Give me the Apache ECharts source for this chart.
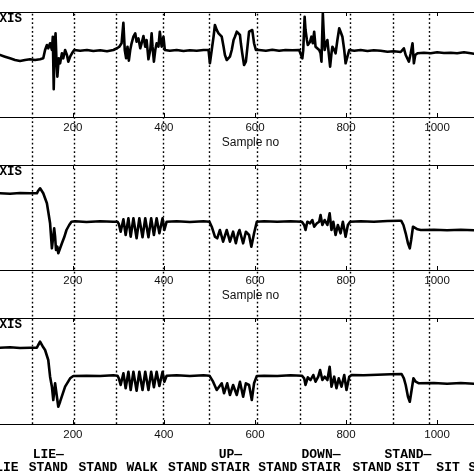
<!DOCTYPE html>
<html lang="en">
<head>
<meta charset="UTF-8">
<title>Accelerometer axes</title>
<style>
    html, body { margin: 0; padding: 0; background: #fff; }
    #main { width: 474px; height: 474px; }
</style>
</head>
<body>
<div id="main"></div>
<script src="https://cdn.jsdelivr.net/npm/echarts@6.0.0/dist/echarts.min.js"></script>
<script>
// visible part of the sample number axis (the figure is cropped on both sides)
const sampleMin = 40, sampleMax = 1081;
const sampleTicks = [200, 400, 600, 800, 1000];
const sampleNameAt = 590;

// activity boundaries (sample no) - the dotted lines
const boundaries = [111, 203, 295, 399, 500, 606, 699, 809, 904, 982];

// activity names under the bottom panel and where they sit (sample no)
const activityNames = ['LIE', 'LIE\u2014\nSTAND', 'STAND', 'WALK', 'STAND', 'UP\u2014\nSTAIR', 'STAND',
    'DOWN\u2014\nSTAIR', 'STAND', 'STAND\u2014\nSIT', 'SIT', 'STAND'];
const activityCenters = [55, 146, 255, 352, 452, 546, 650, 745, 857, 936, 1024, 1112];

const panelTitles = ['X-AXIS', 'Y-AXIS', 'Z-AXIS'];

// [sample no, reading] for each axis
const acc1 = [[30,62.5],[40,62],[51,60.3],[62,58.7],[73,57],[84,56],[95,57],[106,57.7],[117,57],[128,57.7],[135,58.7],
    [139,67],[143,72],[146,68.7],[150,73.7],[154,67],[156,80.3],[158,27.7],[160,70.3],[162,83.7],[164,57],[166,40.3],
    [169,58.7],[172,53.7],[176,63.7],[179,58.7],[183,67],[187,62],[190,55.3],[194,60.3],[198,63.7],[203,67],[216,66.3],
    [231,67],[245,66],[260,66.7],[275,65.7],[289,67],[297,68.7],[302,70.3],[307,73.7],[311,94.3],[314,67],[317,58.7],
    [320,70.3],[323,56.3],[326,67],[329,73.7],[333,80.3],[337,83.7],[340,75.3],[344,78.7],[348,68.7],[351,73.7],[355,81],
    [359,70.3],[362,77],[366,57.7],[370,67],[373,83.7],[375,70.3],[378,55.3],[381,67],[384,73.7],[388,70.3],[391,85.3],
    [395,70.3],[399,80.3],[402,67],[413,66.3],[428,67],[443,66],[457,66.7],[472,66.3],[487,67],[498,67],[501,53.7],
    [505,67],[509,80.3],[512,92],[516,87],[520,83.7],[523,85.3],[527,80.3],[531,70.3],[534,62],[538,57],[542,58.7],
    [545,60.3],[549,67],[553,77],[556,80.3],[560,85.3],[563,83.7],[567,82],[569,73.7],[572,63.7],[576,52],[580,55.3],
    [583,57],[587,85.3],[591,83.7],[594,87],[598,73.7],[602,67],[609,67],[624,66.3],[638,67.3],[653,66.3],[667,67],
    [682,66.7],[697,67],[704,58.7],[706,67],[709,100.3],[711,87],[714,77],[716,72],[719,70.3],[721,75.3],[724,80.3],
    [727,73.7],[730,85.3],[733,70.3],[737,72],[741,67],[744,63.7],[746,55.3],[749,103.7],[751,83.7],[753,67],[756,73.7],
    [759,77],[762,63.7],[765,50.3],[768,63.7],[770,70.3],[774,67],[777,63.7],[781,77],[785,88.7],[788,85.3],[792,80.3],
    [796,67],[799,53.7],[803,60.3],[807,67],[818,66.3],[832,67],[847,66],[861,66.7],[876,66.3],[891,65.3],[905,65.7],
    [920,65],[924,67],[927,68.7],[931,62],[935,63.7],[938,55.3],[942,63.7],[946,73.7],[949,53.7],[952,62],[957,63.7],
    [971,64.3],[986,63.7],[1000,64.7],[1015,64],[1030,64.3],[1044,63.7],[1059,64.7],[1074,63.7],[1081,63.3],[1095,64]];

const acc2 = [[30,76.5],[40,76.7],[62,76.3],[84,77],[106,76.7],[121,76.7],[124,79.3],[128,81.7],[132,80],[135,76.7],
    [139,71.7],[143,66.7],[146,58.3],[150,46.7],[154,21.7],[156,30],[159,41.7],[161,33.3],[163,20],[166,23.3],[168,16.7],
    [172,21.7],[176,26.7],[181,32.7],[186,40],[192,45],[197,48.3],[205,48.7],[230,48],[260,48.7],[289,48.3],[298,48.3],
    [301,46],[305,38.3],[311,50.7],[316,35],[322,51.7],[327,33.3],[333,51.7],[340,31.7],[346,51.7],[353,32.7],[359,51.7],
    [366,32.7],[372,51.7],[378,35],[384,51.7],[390,36.7],[397,51.7],[401,40],[406,48.3],[428,48.7],[457,48],[487,48.7],
    [500,48.3],[505,43.3],[512,33.3],[517,31.7],[523,40],[530,28.3],[538,40],[545,28.3],[552,38.3],[558,26.7],[563,36.7],
    [566,40],[569,38.3],[574,26.7],[580,38.3],[587,35],[592,23.3],[598,36.7],[604,48.3],[620,48.7],[649,48.3],[678,48.7],
    [703,48.3],[708,45],[711,40],[715,48.3],[721,46.7],[726,50],[730,43.3],[736,46.7],[741,48.3],[744,55],[748,45],
    [753,50],[759,45],[764,56.7],[768,40],[772,48.3],[777,35],[782,45],[788,36.7],[793,48.3],[799,33.3],[804,45],
    [809,48.3],[832,48.7],[861,48.3],[891,49],[916,49.3],[921,49.3],[926,45],[931,36.7],[936,26.7],[940,21.7],[943,30],
    [947,43.3],[951,42.7],[957,40.7],[964,40],[993,40.3],[1022,39.7],[1052,40.3],[1081,39.7],[1095,40]];

const acc3 = [[30,76.3],[40,76.3],[62,76.7],[84,76],[106,76.3],[121,76.3],[124,79],[128,82.3],[132,80.7],[135,76.7],
    [139,74],[146,64],[150,47.3],[154,37.3],[157,24],[161,40.7],[165,27.3],[168,17.3],[172,22.3],[176,24],[183,37.3],
    [194,45.7],[201,48],[230,48.3],[260,48],[289,48.7],[298,48.3],[301,45.7],[305,39],[311,50.7],[316,35.7],[322,52.3],
    [327,34],[333,52.3],[340,33.3],[346,52.3],[353,34],[359,52.3],[366,34],[372,52.3],[378,36.7],[384,52.3],[390,38],
    [397,52.3],[401,42.3],[406,48.3],[428,48.7],[457,48],[487,48.7],[500,48.3],[508,42.3],[516,34],[519,32.3],[527,40.7],
    [532,30.7],[539,40.7],[545,29],[552,39],[560,29],[567,42.3],[569,40.7],[574,27.3],[580,40.7],[587,39],[593,24],
    [598,40.7],[604,48],[620,48.3],[649,48],[678,48.7],[703,48.3],[708,45.7],[711,39],[716,46.7],[722,44],[728,49],
    [733,42.3],[739,47.3],[743,54],[748,44],[753,47.3],[759,44],[764,57.3],[768,37.3],[774,47.3],[779,35.7],[784,45.7],
    [790,37.3],[796,49],[801,34],[807,47.3],[812,49],[839,48.7],[869,49.3],[898,49.7],[922,50],[927,45.7],[931,39],
    [936,27.3],[940,22.3],[944,34],[948,45.7],[953,42.3],[960,40.7],[993,41],[1022,40.3],[1052,41],[1081,40.3],[1095,40.5]];

const signals = [acc1, acc2, acc3];

const myChart = echarts.init(document.getElementById('main'));

// panel boxes
const panels = [
    {top: 12, height: 105, yMax: 105},
    {top: 165, height: 105, yMax: 105},
    {top: 318, height: 106, yMax: 106}
];

const grids = [], xAxes = [], yAxes = [], series = [];
panels.forEach(function (p, i) {
    grids.push({left: 0, right: 0, top: p.top, height: p.height, outerBoundsMode: 'none'});
    const base = {
        type: 'value', gridIndex: i, min: sampleMin, max: sampleMax,
        splitLine: {show: false},
        axisLine: {show: true, lineStyle: {color: '#000', width: 1}},
        axisTick: {show: true, inside: true, length: 4, customValues: sampleTicks, lineStyle: {color: '#000'}}
    };
    xAxes.push(Object.assign({}, base, {
        position: 'bottom',
        axisLabel: {
            color: '#111', fontSize: 11.5, margin: 5, fontFamily: 'Liberation Sans, Arial',
            customValues: sampleTicks, formatter: function (v) { return String(v); }
        }
    }));
    xAxes.push(Object.assign({}, base, {position: 'top', axisLabel: {show: false}}));
    yAxes.push({type: 'value', gridIndex: i, min: 0, max: p.yMax, show: false});
    series.push({
        type: 'line', xAxisIndex: 2 * i, yAxisIndex: i, data: signals[i],
        showSymbol: false, symbol: 'none', z: 3,
        lineStyle: {color: '#000', width: 2.6, join: 'round'}
    });
});

// overlay grid for the dotted activity boundaries across all panels
grids.push({left: 0, right: 0, top: 12, height: 412, outerBoundsMode: 'none'});
xAxes.push({type: 'value', gridIndex: 3, min: sampleMin, max: sampleMax, show: false});
yAxes.push({type: 'value', gridIndex: 3, min: 0, max: 1, show: false});
series.push({
    type: 'line', xAxisIndex: 6, yAxisIndex: 3, data: [[sampleMin, 0]],
    showSymbol: false, lineStyle: {opacity: 0}, z: 1,
    markLine: {
        silent: true, symbol: ['none', 'none'], label: {show: false},
        lineStyle: {color: '#000', type: [1.8, 2.5], width: 1.4},
        data: boundaries.map(function (b) { return {xAxis: b}; })
    }
});

myChart.setOption({
    animation: false,
    grid: grids,
    xAxis: xAxes,
    yAxis: yAxes,
    series: series
});

// text placed through the chart's own x scale
const graphics = [];
activityNames.forEach(function (name, k) {
    const px = myChart.convertToPixel({xAxisIndex: 4}, activityCenters[k]);
    graphics.push({
        type: 'text', x: px, y: 474, silent: true,
        style: {
            text: name, fill: '#000', align: 'center', verticalAlign: 'bottom',
            font: 'bold 13px "Liberation Mono", monospace', lineHeight: 13
        }
    });
});
[0, 1].forEach(function (i) {
    const px = myChart.convertToPixel({xAxisIndex: 2 * i}, sampleNameAt);
    graphics.push({
        type: 'text', x: px, y: panels[i].top + panels[i].height + 26, silent: true,
        style: {
            text: 'Sample no', fill: '#111', align: 'center', verticalAlign: 'middle',
            font: '12px "Liberation Sans", Arial'
        }
    });
});
panelTitles.forEach(function (t, i) {
    graphics.push({
        type: 'text', x: 22, y: panels[i].top + 7, silent: true,
        style: {
            text: t, fill: '#000', align: 'right', verticalAlign: 'middle',
            font: 'bold 12.5px "Liberation Mono", monospace'
        }
    });
});
myChart.setOption({graphic: graphics});
</script>
</body>
</html>
